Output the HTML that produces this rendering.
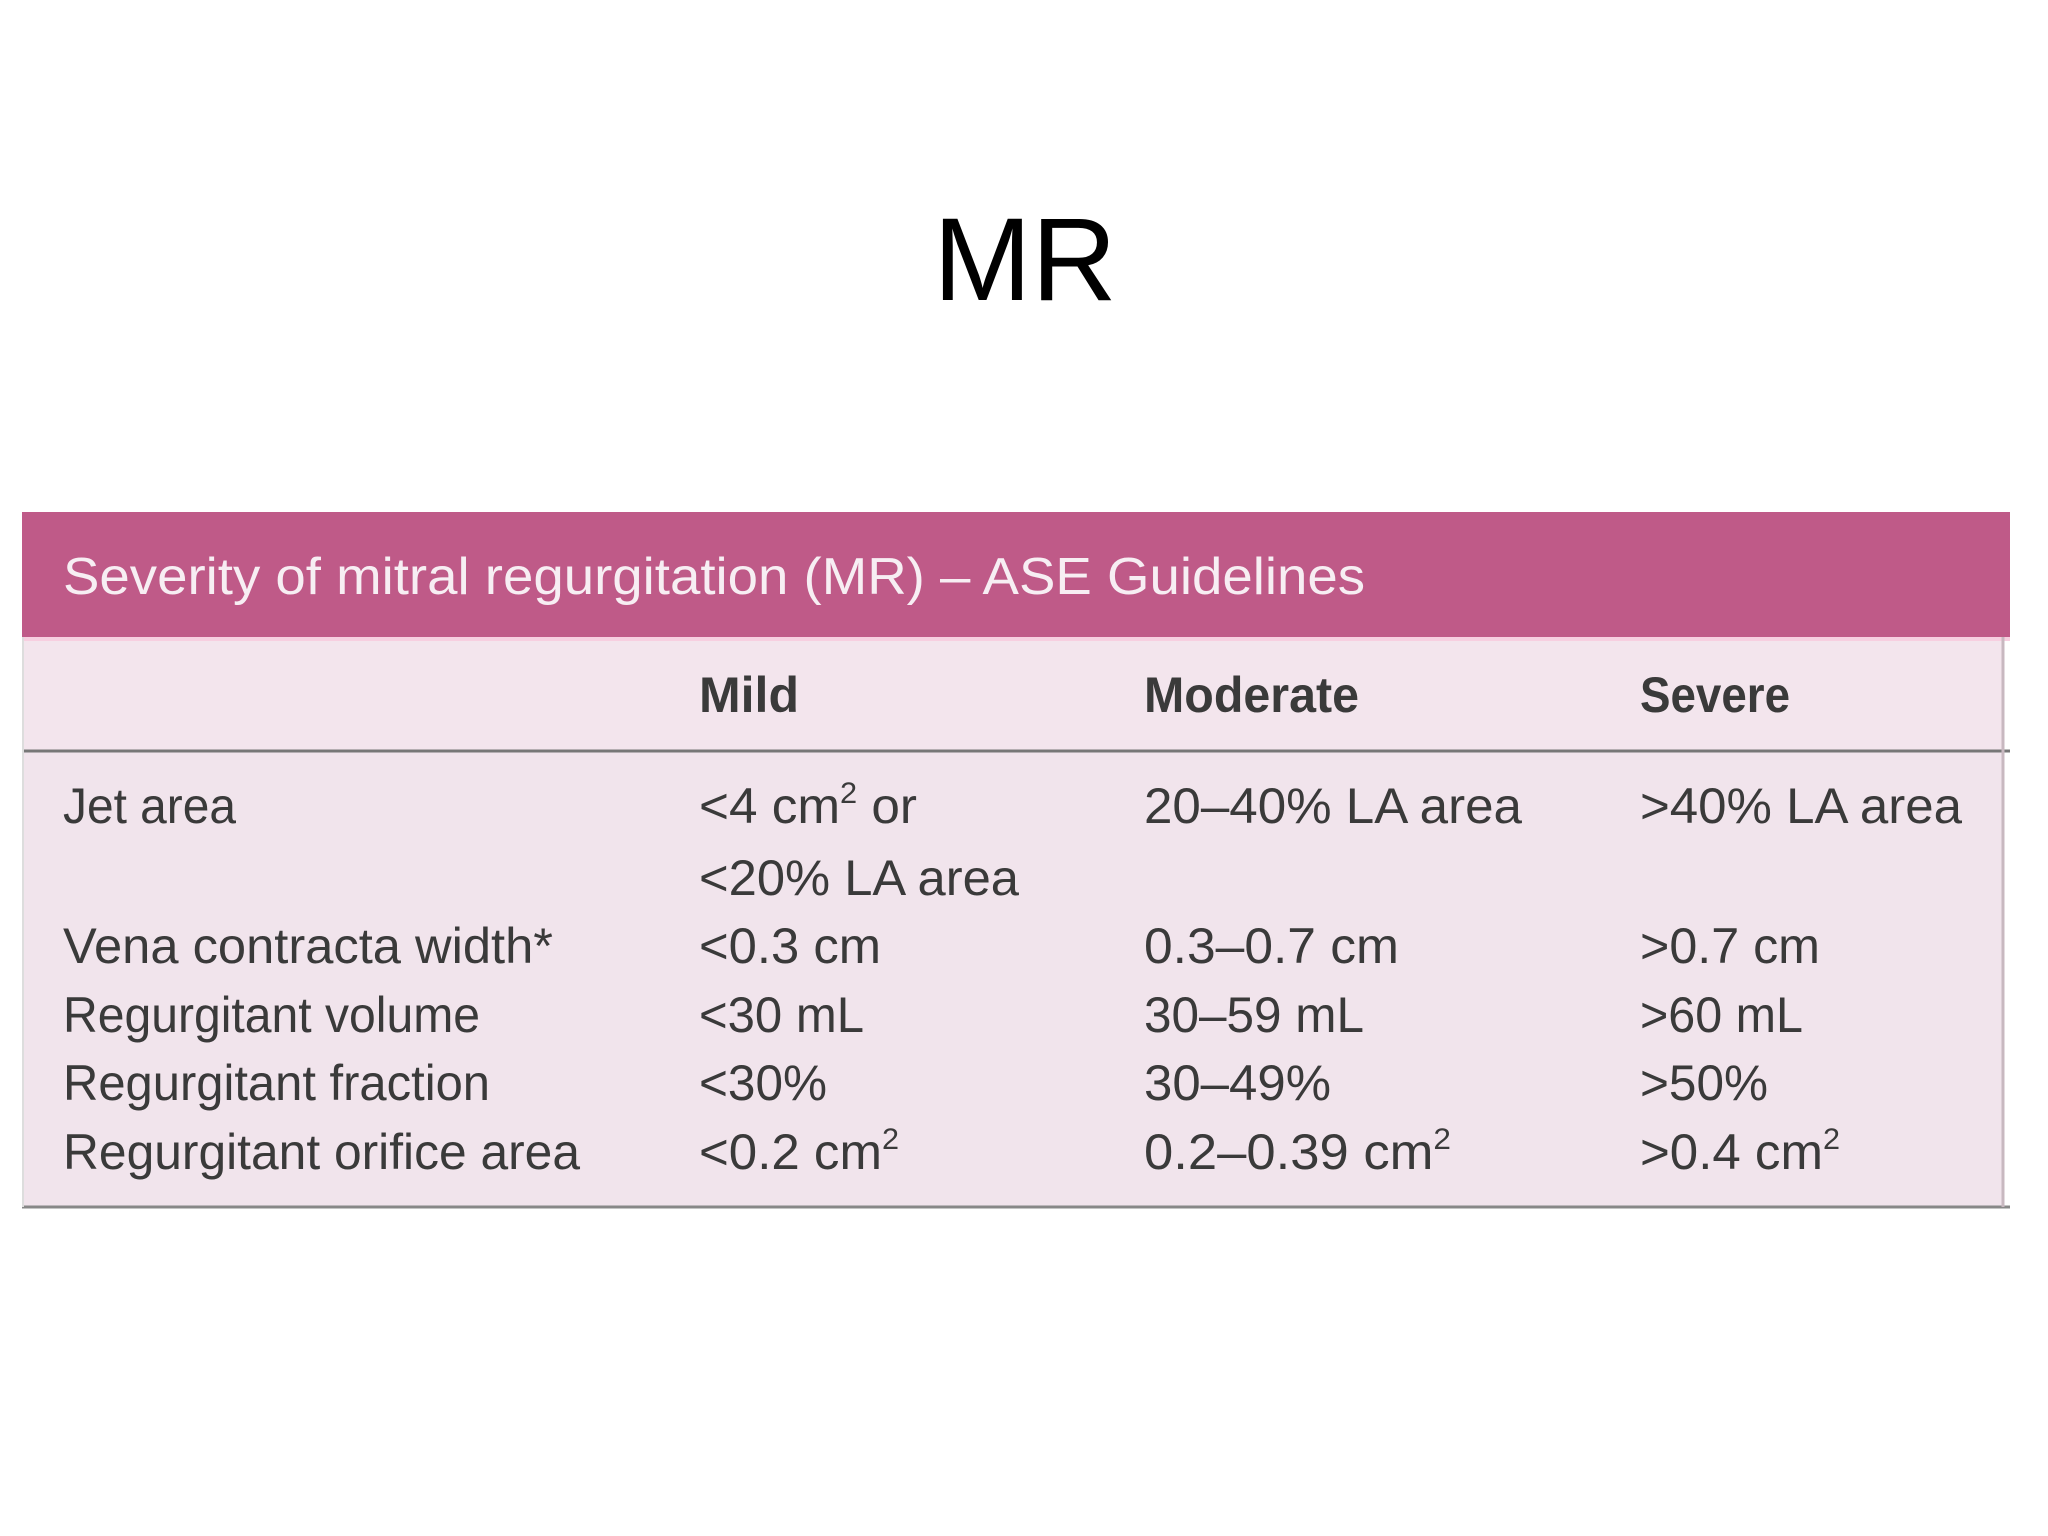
<!DOCTYPE html>
<html><head><meta charset="utf-8"><style>
html,body{margin:0;padding:0;background:#fff;}
svg{display:block;}
text{font-family:"Liberation Sans",sans-serif;}
.b{fill:#3a3a3a;font-size:50px;}
.h{fill:#3a3a3a;font-size:50px;font-weight:bold;}
</style></head><body>
<svg width="2048" height="1536" viewBox="0 0 2048 1536">
<rect width="2048" height="1536" fill="#ffffff"/>
<text x="1025" y="300" font-size="118" text-anchor="middle" fill="#000">MR</text>
<g>
<rect x="22" y="637" width="1981" height="570" fill="#f1e4ec"/>
<rect x="22" y="637" width="1981" height="114" fill="#f3e5ed"/>
<rect x="22" y="512" width="1988" height="125" fill="#bf5a88"/>
<rect x="22" y="637" width="1988" height="4" fill="#f7cfe0"/>
<text x="63" y="594" font-size="52" fill="#f7eef3" textLength="1302" lengthAdjust="spacingAndGlyphs">Severity of mitral regurgitation (MR) – ASE Guidelines</text>
<line x1="22" y1="751" x2="2010" y2="751" stroke="#777" stroke-width="3"/>
<line x1="22" y1="1207" x2="2010" y2="1207" stroke="#888" stroke-width="3"/>
<line x1="2003" y1="637" x2="2003" y2="1207" stroke="#c8b8c0" stroke-width="3"/>
<line x1="23" y1="637" x2="23" y2="1207" stroke="#ddd" stroke-width="2"/>

<text class="h" x="699" y="712" textLength="100" lengthAdjust="spacingAndGlyphs">Mild</text>
<text class="h" x="1144" y="712" textLength="215" lengthAdjust="spacingAndGlyphs">Moderate</text>
<text class="h" x="1640" y="712" textLength="150" lengthAdjust="spacingAndGlyphs">Severe</text>

<text class="b" x="63" y="823" textLength="173" lengthAdjust="spacingAndGlyphs">Jet area</text>
<text class="b" x="699" y="823" textLength="218" lengthAdjust="spacingAndGlyphs">&lt;4 cm<tspan font-size="30" dy="-20">2</tspan><tspan dy="20"> or</tspan></text>
<text class="b" x="699" y="895" textLength="320" lengthAdjust="spacingAndGlyphs">&lt;20% LA area</text>
<text class="b" x="1144" y="823" textLength="378" lengthAdjust="spacingAndGlyphs">20–40% LA area</text>
<text class="b" x="1640" y="823" textLength="322" lengthAdjust="spacingAndGlyphs">&gt;40% LA area</text>

<text class="b" x="63" y="963" textLength="490" lengthAdjust="spacingAndGlyphs">Vena contracta width*</text>
<text class="b" x="699" y="963" textLength="182" lengthAdjust="spacingAndGlyphs">&lt;0.3 cm</text>
<text class="b" x="1144" y="963" textLength="255" lengthAdjust="spacingAndGlyphs">0.3–0.7 cm</text>
<text class="b" x="1640" y="963" textLength="180" lengthAdjust="spacingAndGlyphs">&gt;0.7 cm</text>

<text class="b" x="63" y="1032" textLength="417" lengthAdjust="spacingAndGlyphs">Regurgitant volume</text>
<text class="b" x="699" y="1032" textLength="165" lengthAdjust="spacingAndGlyphs">&lt;30 mL</text>
<text class="b" x="1144" y="1032" textLength="220" lengthAdjust="spacingAndGlyphs">30–59 mL</text>
<text class="b" x="1640" y="1032" textLength="163" lengthAdjust="spacingAndGlyphs">&gt;60 mL</text>

<text class="b" x="63" y="1100" textLength="427" lengthAdjust="spacingAndGlyphs">Regurgitant fraction</text>
<text class="b" x="699" y="1100" textLength="128" lengthAdjust="spacingAndGlyphs">&lt;30%</text>
<text class="b" x="1144" y="1100" textLength="187" lengthAdjust="spacingAndGlyphs">30–49%</text>
<text class="b" x="1640" y="1100" textLength="128" lengthAdjust="spacingAndGlyphs">&gt;50%</text>

<text class="b" x="63" y="1169" textLength="517" lengthAdjust="spacingAndGlyphs">Regurgitant orifice area</text>
<text class="b" x="699" y="1169" textLength="200" lengthAdjust="spacingAndGlyphs">&lt;0.2 cm<tspan font-size="30" dy="-20">2</tspan></text>
<text class="b" x="1144" y="1169" textLength="307" lengthAdjust="spacingAndGlyphs">0.2–0.39 cm<tspan font-size="30" dy="-20">2</tspan></text>
<text class="b" x="1640" y="1169" textLength="200" lengthAdjust="spacingAndGlyphs">&gt;0.4 cm<tspan font-size="30" dy="-20">2</tspan></text>
</g>
</svg>
</body></html>
